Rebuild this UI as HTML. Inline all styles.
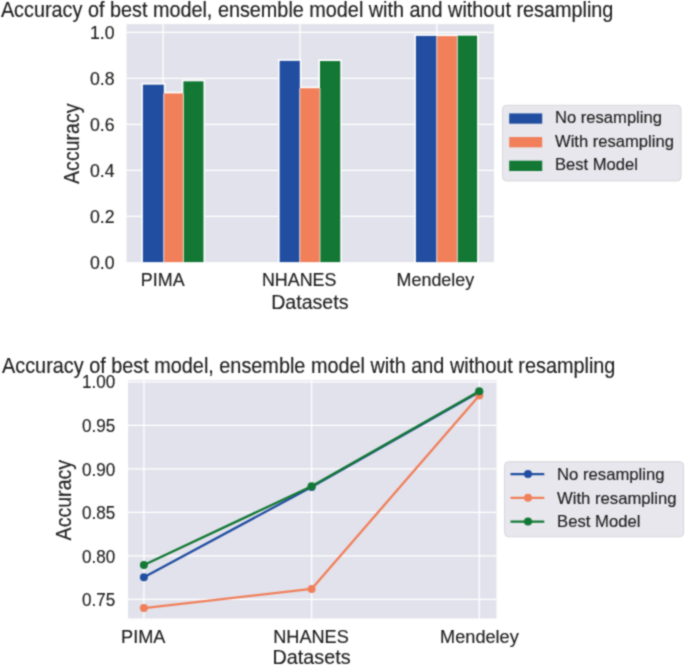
<!DOCTYPE html>
<html><head><meta charset="utf-8"><title>Accuracy charts</title>
<style>
html,body{margin:0;padding:0;background:#fff;}
body{width:685px;height:667px;overflow:hidden;}
svg{display:block;}
text{font-family:"Liberation Sans", Arial, sans-serif;fill:#1e1e1e;stroke:#1e1e1e;stroke-width:0.15px;}
</style></head><body>
<svg width="685" height="667" viewBox="0 0 685 667">
<defs><filter id="soft" x="0" y="0" width="685" height="667" filterUnits="userSpaceOnUse" color-interpolation-filters="sRGB"><feConvolveMatrix order="3" kernelMatrix="1 2 1 2 8 2 1 2 1" divisor="20" edgeMode="duplicate" preserveAlpha="true"/></filter></defs>
<g filter="url(#soft)">
<rect x="0" y="0" width="685" height="667" fill="#fff"/>
<rect x="126.6" y="24.1" width="367.40" height="238.00" fill="#e2e2ec"/>
<line x1="126.60" x2="494.00" y1="216.38" y2="216.38" stroke="#ffffff" stroke-opacity="1.0" stroke-width="1.3"/>
<line x1="126.60" x2="494.00" y1="170.36" y2="170.36" stroke="#ffffff" stroke-opacity="1.0" stroke-width="1.3"/>
<line x1="126.60" x2="494.00" y1="124.34" y2="124.34" stroke="#ffffff" stroke-opacity="1.0" stroke-width="1.3"/>
<line x1="126.60" x2="494.00" y1="78.32" y2="78.32" stroke="#ffffff" stroke-opacity="1.0" stroke-width="1.3"/>
<line x1="126.60" x2="494.00" y1="32.30" y2="32.30" stroke="#ffffff" stroke-opacity="1.0" stroke-width="1.3"/>
<line x1="163.05" x2="163.05" y1="24.10" y2="262.10" stroke="#ffffff" stroke-opacity="1.0" stroke-width="1.3"/>
<line x1="299.95" x2="299.95" y1="24.10" y2="262.10" stroke="#ffffff" stroke-opacity="1.0" stroke-width="1.3"/>
<line x1="436.85" x2="436.85" y1="24.10" y2="262.10" stroke="#ffffff" stroke-opacity="1.0" stroke-width="1.3"/>
<rect x="141.30" y="83.05" width="24.10" height="179.05" fill="#fff"/>
<rect x="162.20" y="91.79" width="22.80" height="170.31" fill="#fff"/>
<rect x="181.80" y="79.71" width="23.30" height="182.39" fill="#fff"/>
<rect x="278.00" y="59.23" width="23.40" height="202.87" fill="#fff"/>
<rect x="298.20" y="86.61" width="23.40" height="175.49" fill="#fff"/>
<rect x="318.40" y="59.46" width="23.50" height="202.64" fill="#fff"/>
<rect x="414.30" y="34.27" width="24.10" height="227.83" fill="#fff"/>
<rect x="435.20" y="34.50" width="23.70" height="227.60" fill="#fff"/>
<rect x="455.70" y="34.04" width="23.00" height="228.06" fill="#fff"/>
<rect x="142.90" y="84.65" width="20.90" height="177.45" fill="#214ea0"/>
<rect x="163.80" y="93.39" width="19.60" height="168.71" fill="#f07f5a"/>
<rect x="183.40" y="81.31" width="20.10" height="180.79" fill="#127834"/>
<line x1="163.80" x2="163.80" y1="93.39" y2="262.10" stroke="#fff" stroke-width="0.7"/>
<line x1="183.40" x2="183.40" y1="93.39" y2="262.10" stroke="#fff" stroke-width="0.7"/>
<rect x="279.60" y="60.83" width="20.20" height="201.27" fill="#214ea0"/>
<rect x="299.80" y="88.21" width="20.20" height="173.89" fill="#f07f5a"/>
<rect x="320.00" y="61.06" width="20.30" height="201.04" fill="#127834"/>
<line x1="299.80" x2="299.80" y1="88.21" y2="262.10" stroke="#fff" stroke-width="0.7"/>
<line x1="320.00" x2="320.00" y1="88.21" y2="262.10" stroke="#fff" stroke-width="0.7"/>
<rect x="415.90" y="35.87" width="20.90" height="226.23" fill="#214ea0"/>
<rect x="436.80" y="36.10" width="20.50" height="226.00" fill="#f07f5a"/>
<rect x="457.30" y="35.64" width="19.80" height="226.46" fill="#127834"/>
<line x1="436.80" x2="436.80" y1="36.10" y2="262.10" stroke="#fff" stroke-width="0.7"/>
<line x1="457.30" x2="457.30" y1="36.10" y2="262.10" stroke="#fff" stroke-width="0.7"/>
<text transform="translate(114.60,269.00)" font-size="17.7" text-anchor="end">0.0</text>
<text transform="translate(114.60,222.98)" font-size="17.7" text-anchor="end">0.2</text>
<text transform="translate(114.60,176.96)" font-size="17.7" text-anchor="end">0.4</text>
<text transform="translate(114.60,130.94)" font-size="17.7" text-anchor="end">0.6</text>
<text transform="translate(114.60,84.92)" font-size="17.7" text-anchor="end">0.8</text>
<text transform="translate(114.60,38.90)" font-size="17.7" text-anchor="end">1.0</text>
<text transform="translate(162.70,285.85)" font-size="17.9" text-anchor="middle">PIMA</text>
<text transform="translate(299.20,285.85)" font-size="17.9" text-anchor="middle">NHANES</text>
<text transform="translate(435.40,285.85)" font-size="17.9" text-anchor="middle">Mendeley</text>
<text transform="translate(309.80,308.90) scale(1.0,1.03)" font-size="19.6" text-anchor="middle">Datasets</text>
<text transform="translate(79.20,143.70) rotate(-90) scale(1.0,1.08)" font-size="19.6" text-anchor="middle">Accuracy</text>
<text transform="translate(0.90,16.80) scale(1.0,1.08)" font-size="19.83" text-anchor="start">Accuracy of best model, ensemble model with and without resampling</text>
<rect x="502.5" y="105.3" width="178.5" height="75.6" rx="4" fill="#e7e7ed" stroke="#d6d6dc" stroke-width="1"/>
<rect x="509.2" y="113.40" width="33" height="10.3" fill="#214ea0"/>
<text transform="translate(555.00,123.10) scale(1.0,0.94)" font-size="16.6" text-anchor="start">No resampling</text>
<rect x="509.2" y="137.05" width="33" height="10.3" fill="#f07f5a"/>
<text transform="translate(555.00,146.75) scale(1.0,0.94)" font-size="16.6" text-anchor="start">With resampling</text>
<rect x="509.2" y="160.70" width="33" height="10.3" fill="#127834"/>
<text transform="translate(555.00,170.40) scale(1.0,0.94)" font-size="16.6" text-anchor="start">Best Model</text>
<rect x="128.1" y="380.2" width="368.40" height="238.30" fill="#e2e2ec"/>
<line x1="128.10" x2="496.50" y1="599.40" y2="599.40" stroke="#ffffff" stroke-opacity="1.0" stroke-width="1.3"/>
<line x1="128.10" x2="496.50" y1="555.90" y2="555.90" stroke="#ffffff" stroke-opacity="1.0" stroke-width="1.3"/>
<line x1="128.10" x2="496.50" y1="512.40" y2="512.40" stroke="#ffffff" stroke-opacity="1.0" stroke-width="1.3"/>
<line x1="128.10" x2="496.50" y1="468.90" y2="468.90" stroke="#ffffff" stroke-opacity="1.0" stroke-width="1.3"/>
<line x1="128.10" x2="496.50" y1="425.40" y2="425.40" stroke="#ffffff" stroke-opacity="1.0" stroke-width="1.3"/>
<line x1="128.10" x2="496.50" y1="381.90" y2="381.90" stroke="#ffffff" stroke-opacity="1.0" stroke-width="1.3"/>
<line x1="143.90" x2="143.90" y1="380.20" y2="618.50" stroke="#ffffff" stroke-opacity="1.0" stroke-width="1.3"/>
<line x1="311.60" x2="311.60" y1="380.20" y2="618.50" stroke="#ffffff" stroke-opacity="1.0" stroke-width="1.3"/>
<line x1="479.25" x2="479.25" y1="380.20" y2="618.50" stroke="#ffffff" stroke-opacity="1.0" stroke-width="1.3"/>
<polyline points="143.90,577.22 311.60,487.00 479.25,391.90" fill="none" stroke="#214ea0" stroke-width="2.3" stroke-linejoin="round" stroke-linecap="round"/>
<circle cx="143.90" cy="577.22" r="4" fill="#214ea0"/>
<circle cx="311.60" cy="487.00" r="4" fill="#214ea0"/>
<circle cx="479.25" cy="391.90" r="4" fill="#214ea0"/>
<polyline points="143.90,608.10 311.60,588.96 479.25,395.56" fill="none" stroke="#f07f5a" stroke-width="2.3" stroke-linejoin="round" stroke-linecap="round"/>
<circle cx="143.90" cy="608.10" r="4" fill="#f07f5a"/>
<circle cx="311.60" cy="588.96" r="4" fill="#f07f5a"/>
<circle cx="479.25" cy="395.56" r="4" fill="#f07f5a"/>
<polyline points="143.90,565.03 311.60,486.21 479.25,391.21" fill="none" stroke="#127834" stroke-width="2.3" stroke-linejoin="round" stroke-linecap="round"/>
<circle cx="143.90" cy="565.03" r="4" fill="#127834"/>
<circle cx="311.60" cy="486.21" r="4" fill="#127834"/>
<circle cx="479.25" cy="391.21" r="4" fill="#127834"/>
<text transform="translate(115.20,606.10) scale(0.965,1.0)" font-size="17.7" text-anchor="end">0.75</text>
<text transform="translate(115.20,562.60) scale(0.965,1.0)" font-size="17.7" text-anchor="end">0.80</text>
<text transform="translate(115.20,519.10) scale(0.965,1.0)" font-size="17.7" text-anchor="end">0.85</text>
<text transform="translate(115.20,475.60) scale(0.965,1.0)" font-size="17.7" text-anchor="end">0.90</text>
<text transform="translate(115.20,432.10) scale(0.965,1.0)" font-size="17.7" text-anchor="end">0.95</text>
<text transform="translate(115.20,387.90) scale(0.965,1.0)" font-size="17.7" text-anchor="end">1.00</text>
<text transform="translate(143.25,642.90)" font-size="18.15" text-anchor="middle">PIMA</text>
<text transform="translate(311.00,642.90)" font-size="18.15" text-anchor="middle">NHANES</text>
<text transform="translate(479.45,642.90)" font-size="18.15" text-anchor="middle">Mendeley</text>
<text transform="translate(311.60,664.20) scale(1.0,0.99)" font-size="19.8" text-anchor="middle">Datasets</text>
<text transform="translate(70.80,500.15) rotate(-90) scale(1.0,1.15)" font-size="19.6" text-anchor="middle">Accuracy</text>
<text transform="translate(2.00,372.70) scale(1.0,1.11)" font-size="19.86" text-anchor="start">Accuracy of best model, ensemble model with and without resampling</text>
<rect x="504.6" y="461.7" width="179.0" height="75.1" rx="4" fill="#e7e7ed" stroke="#d6d6dc" stroke-width="1"/>
<line x1="510.5" x2="544.3" y1="474.10" y2="474.10" stroke="#214ea0" stroke-width="2.3"/>
<circle cx="528" cy="474.10" r="4" fill="#214ea0"/>
<text transform="translate(557.00,479.75) scale(1.0,0.94)" font-size="16.7" text-anchor="start">No resampling</text>
<line x1="510.5" x2="544.3" y1="497.85" y2="497.85" stroke="#f07f5a" stroke-width="2.3"/>
<circle cx="528" cy="497.85" r="4" fill="#f07f5a"/>
<text transform="translate(557.00,503.50) scale(1.0,0.94)" font-size="16.7" text-anchor="start">With resampling</text>
<line x1="510.5" x2="544.3" y1="521.60" y2="521.60" stroke="#127834" stroke-width="2.3"/>
<circle cx="528" cy="521.60" r="4" fill="#127834"/>
<text transform="translate(557.00,527.25) scale(1.0,0.94)" font-size="16.7" text-anchor="start">Best Model</text>
</g>
</svg>
</body></html>
